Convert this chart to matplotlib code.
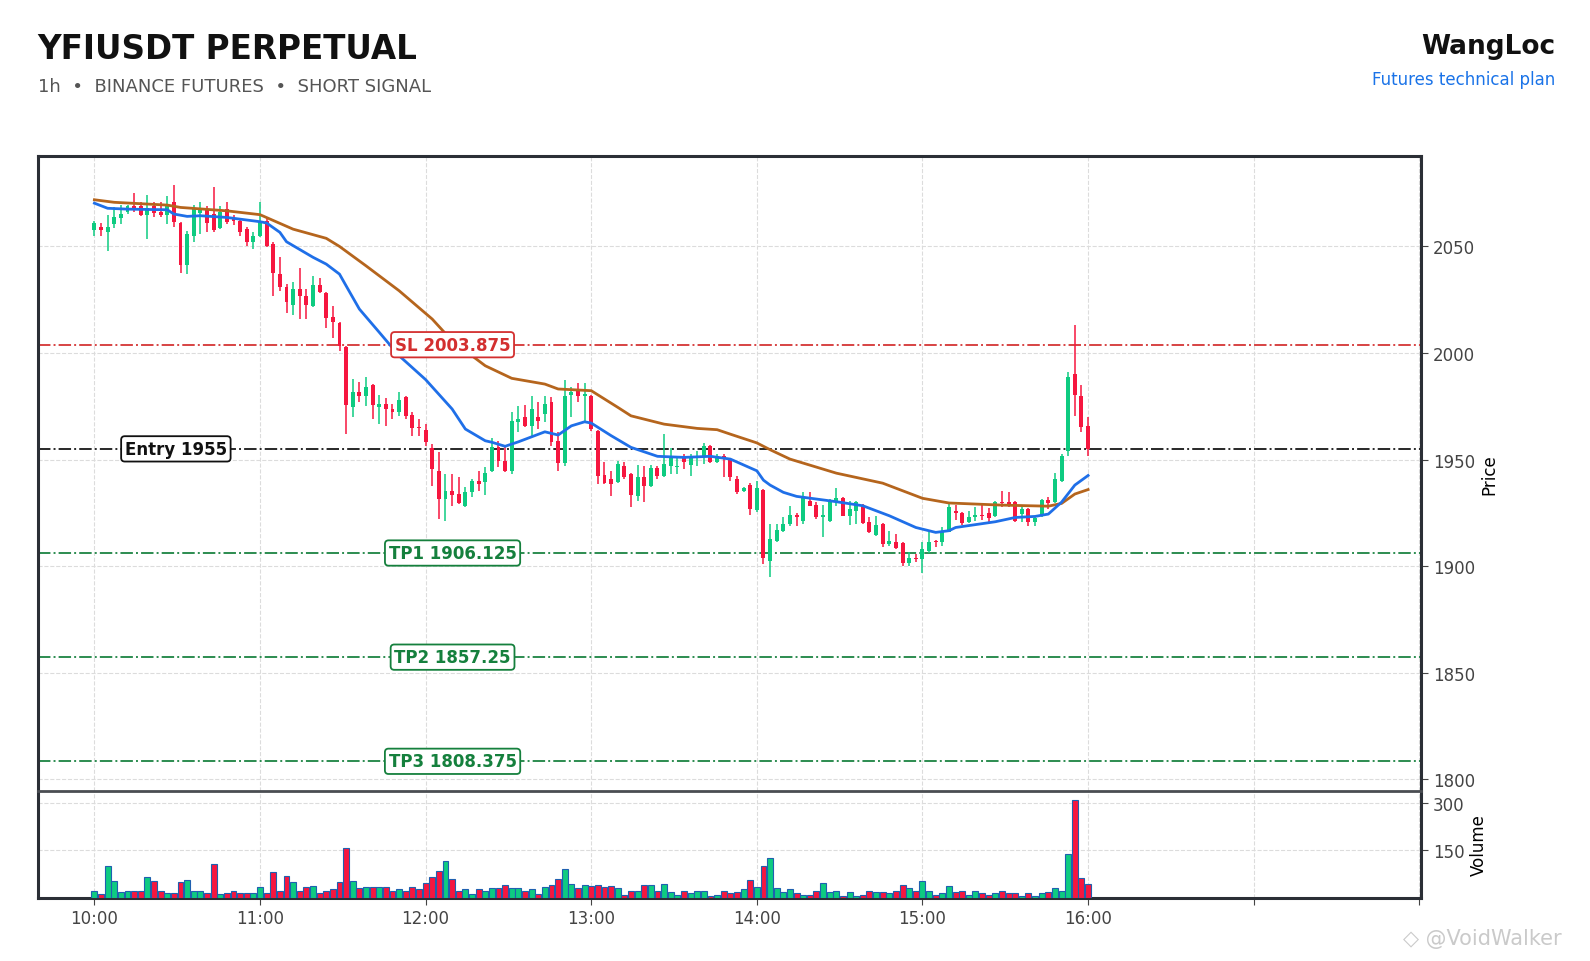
import matplotlib
matplotlib.use("Agg")
import matplotlib.pyplot as plt
import matplotlib.transforms as mtransforms

plt.rcParams["font.family"] = ["DejaVu Sans"]

# 2.4-minute candles from 10:00 to 16:00 (x in minutes after 10:00)
opens = [2057.8, 2059.1, 2056.6, 2060.5, 2063.3, 2066.0, 2068.8, 2068.8, 2064.9, 2068.8,
         2066.3, 2064.9, 2071.0, 2061.0, 2041.3, 2054.7, 2065.6, 2067.5, 2065.2, 2058.6,
         2067.5, 2062.8, 2062.0, 2058.1, 2051.9, 2054.7, 2062.0, 2051.1, 2037.0, 2030.8,
         2022.6, 2030.0, 2026.8, 2021.9, 2031.9, 2028.1, 2016.7, 2014.0, 2002.6, 1974.8,
         1981.5, 1979.6, 1984.9, 1974.8, 1976.0, 1973.7, 1972.4, 1979.2, 1970.9, 1965.1,
         1963.9, 1955.2, 1944.7, 1931.4, 1935.3, 1933.8, 1928.3, 1934.6, 1939.7, 1939.5,
         1944.7, 1955.7, 1949.4, 1944.7, 1967.7, 1969.8, 1965.6, 1969.8, 1971.3, 1977.1,
         1958.8, 1948.3, 1980.3, 1983.1, 1979.6, 1979.6, 1963.5, 1942.7, 1940.8, 1939.5,
         1947.1, 1943.2, 1932.7, 1941.6, 1937.7, 1945.8, 1942.4, 1946.8, 1946.3, 1950.5,
         1947.5, 1951.0, 1951.8, 1956.5, 1948.7, 1951.8, 1950.2, 1940.8, 1935.3, 1938.0,
         1926.4, 1935.7, 1902.5, 1911.9, 1916.6, 1919.7, 1923.9, 1921.3, 1930.6, 1928.6,
         1922.8, 1921.3, 1929.9, 1931.8, 1923.6, 1925.9, 1928.6, 1920.5, 1914.6, 1919.7,
         1910.3, 1911.4, 1910.8, 1901.4, 1903.6, 1903.3, 1907.2, 1911.9, 1911.4, 1916.1,
         1925.9, 1924.9, 1920.5, 1922.8, 1923.9, 1924.9, 1923.6, 1930.2, 1929.9, 1929.9,
         1924.4, 1926.8, 1920.5, 1923.6, 1931.0, 1929.9, 1940.0, 1954.1, 1990.1, 1979.6,
         1965.9]
highs = [2062.0, 2061.0, 2064.9, 2068.3, 2069.4, 2069.4, 2075.0, 2070.7, 2074.1, 2070.7,
         2070.7, 2073.8, 2078.8, 2061.5, 2057.3, 2069.4, 2071.0, 2068.8, 2077.7, 2069.1,
         2071.0, 2064.7, 2062.8, 2058.9, 2056.6, 2070.7, 2063.6, 2051.9, 2044.9, 2032.3,
         2033.4, 2039.7, 2030.0, 2035.9, 2035.0, 2028.6, 2021.9, 2014.5, 2003.4, 1987.7,
         1986.2, 1988.5, 1985.5, 1980.3, 1978.7, 1976.0, 1981.5, 1979.7, 1972.1, 1969.0,
         1966.6, 1957.3, 1953.6, 1943.2, 1943.2, 1941.6, 1936.9, 1940.8, 1944.7, 1946.3,
         1959.9, 1958.8, 1956.5, 1972.4, 1974.9, 1975.6, 1979.6, 1977.1, 1979.6, 1979.2,
         1962.7, 1987.4, 1983.9, 1985.9, 1985.9, 1980.1, 1964.0, 1948.9, 1944.7, 1949.4,
         1948.9, 1943.7, 1947.5, 1947.1, 1947.4, 1947.1, 1962.0, 1955.2, 1951.0, 1952.6,
         1952.6, 1954.1, 1957.7, 1957.0, 1952.6, 1952.6, 1950.7, 1942.4, 1936.9, 1938.9,
         1940.0, 1936.2, 1919.7, 1919.7, 1922.9, 1928.0, 1924.9, 1934.6, 1934.6, 1929.9,
         1928.6, 1931.4, 1936.5, 1932.3, 1930.6, 1930.6, 1929.1, 1922.9, 1923.6, 1920.2,
         1916.6, 1915.0, 1911.3, 1906.4, 1905.6, 1911.4, 1915.8, 1912.3, 1918.2, 1929.1,
         1928.6, 1925.2, 1925.9, 1927.5, 1929.6, 1927.1, 1930.6, 1935.3, 1934.6, 1930.4,
         1928.3, 1927.3, 1923.6, 1931.4, 1932.2, 1943.6, 1952.6, 1990.9, 2013.1, 1984.9,
         1969.8]
lows = [2054.7, 2054.7, 2047.7, 2058.6, 2060.5, 2065.2, 2066.0, 2064.5, 2053.5, 2063.6,
        2063.6, 2060.5, 2058.9, 2037.5, 2037.0, 2051.9, 2055.8, 2056.6, 2056.6, 2058.1,
        2060.5, 2060.0, 2055.0, 2050.0, 2048.8, 2054.2, 2049.5, 2026.8, 2029.2, 2018.7,
        2017.8, 2015.9, 2015.9, 2021.4, 2028.1, 2011.5, 2006.8, 2001.0, 1961.9, 1969.8,
        1976.8, 1975.2, 1969.0, 1966.6, 1965.8, 1969.0, 1970.5, 1969.0, 1961.1, 1961.1,
        1956.5, 1937.7, 1922.1, 1921.3, 1928.3, 1929.1, 1927.5, 1932.2, 1935.3, 1933.5,
        1944.2, 1946.3, 1944.2, 1943.2, 1962.7, 1965.1, 1961.1, 1964.3, 1967.4, 1956.5,
        1944.7, 1947.1, 1969.8, 1976.8, 1968.2, 1963.5, 1938.5, 1938.5, 1932.7, 1939.0,
        1940.8, 1927.5, 1930.6, 1929.9, 1937.2, 1940.8, 1941.9, 1943.2, 1943.2, 1945.5,
        1942.4, 1947.1, 1947.9, 1948.2, 1948.2, 1941.6, 1940.0, 1933.8, 1934.6, 1923.9,
        1925.5, 1900.9, 1894.7, 1911.4, 1915.8, 1918.9, 1918.6, 1919.7, 1928.0, 1922.1,
        1913.5, 1920.8, 1928.3, 1923.3, 1919.2, 1919.7, 1919.7, 1915.3, 1914.2, 1908.8,
        1909.5, 1908.0, 1899.9, 1899.9, 1901.7, 1896.7, 1906.1, 1908.8, 1909.5, 1915.8,
        1921.7, 1919.2, 1920.0, 1921.3, 1921.7, 1920.8, 1922.8, 1927.5, 1927.5, 1920.8,
        1920.8, 1918.6, 1918.9, 1922.8, 1926.8, 1929.6, 1939.5, 1951.8, 1970.5, 1962.7,
        1951.8]
closes = [2061.0, 2057.8, 2059.1, 2063.6, 2065.2, 2068.8, 2067.9, 2064.9, 2067.9, 2065.6,
          2064.9, 2069.1, 2061.6, 2041.3, 2055.8, 2067.5, 2067.5, 2061.0, 2057.8, 2066.3,
          2061.6, 2062.0, 2056.6, 2051.9, 2054.7, 2061.3, 2050.0, 2037.5, 2030.8, 2023.7,
          2030.0, 2026.8, 2022.6, 2031.9, 2028.7, 2016.2, 2014.6, 2003.4, 1975.6, 1981.5,
          1979.6, 1983.9, 1975.6, 1976.0, 1973.7, 1972.1, 1978.0, 1970.5, 1964.6, 1964.6,
          1958.0, 1945.5, 1931.4, 1935.3, 1933.5, 1929.6, 1934.6, 1939.7, 1938.5, 1943.6,
          1955.7, 1949.4, 1944.7, 1968.2, 1969.0, 1965.6, 1973.7, 1968.2, 1976.0, 1958.0,
          1948.3, 1979.6, 1981.8, 1979.6, 1980.7, 1964.3, 1942.4, 1939.0, 1938.5, 1947.9,
          1941.6, 1933.5, 1941.6, 1937.7, 1945.8, 1942.4, 1947.9, 1951.0, 1947.1, 1948.7,
          1950.5, 1951.8, 1956.5, 1948.7, 1951.5, 1950.2, 1941.6, 1934.6, 1936.5, 1926.8,
          1936.5, 1903.8, 1912.7, 1917.0, 1919.7, 1923.9, 1922.8, 1931.8, 1928.3, 1922.8,
          1923.9, 1929.9, 1931.8, 1923.6, 1926.8, 1929.9, 1920.2, 1915.8, 1919.2, 1910.3,
          1911.9, 1908.3, 1901.4, 1903.6, 1903.3, 1908.0, 1911.4, 1911.1, 1916.1, 1927.5,
          1924.9, 1920.2, 1922.8, 1923.9, 1923.5, 1922.4, 1929.9, 1929.6, 1928.6, 1921.3,
          1926.8, 1920.5, 1922.4, 1931.0, 1929.6, 1940.8, 1951.8, 1988.5, 1980.2, 1965.4,
          1954.9]
volumes = [22.3, 11.7, 99.0, 51.1, 18.1, 22.3, 22.3, 22.3, 63.8, 51.1,
           19.2, 14.9, 14.9, 47.9, 54.3, 22.3, 22.3, 14.9, 105.3, 11.7,
           14.9, 19.2, 14.9, 14.9, 14.9, 31.9, 14.9, 79.8, 19.2, 67.0,
           47.9, 22.3, 31.9, 35.1, 14.9, 22.3, 25.5, 47.9, 156.4, 51.1,
           28.7, 31.9, 31.9, 31.9, 31.9, 19.2, 25.5, 22.3, 31.9, 25.5,
           44.7, 63.8, 83.0, 114.9, 57.5, 19.2, 25.5, 11.7, 25.5, 19.2,
           28.7, 28.7, 38.3, 28.7, 28.7, 19.2, 25.5, 11.7, 31.9, 38.3,
           57.5, 89.4, 41.5, 28.7, 38.3, 35.1, 38.3, 31.9, 35.1, 28.7,
           8.5, 22.3, 22.3, 38.3, 38.3, 19.2, 41.5, 16.0, 8.5, 19.2,
           12.8, 22.3, 22.3, 5.3, 8.5, 19.2, 12.8, 16.0, 25.5, 54.3,
           31.9, 99.0, 124.5, 28.7, 16.0, 25.5, 12.8, 8.5, 8.5, 19.2,
           44.7, 16.0, 22.3, 5.3, 16.0, 5.3, 8.5, 19.2, 16.0, 16.0,
           12.8, 19.2, 38.3, 28.7, 19.2, 51.1, 19.2, 8.5, 12.8, 35.1,
           16.0, 19.2, 8.5, 19.2, 12.8, 8.5, 12.8, 19.2, 12.8, 12.8,
           5.3, 12.8, 5.3, 12.8, 16.0, 28.7, 22.3, 137.3, 309.6, 60.6,
           41.5]

# moving averages (candle index, value)
ema_fast_idx = [0, 2, 5, 11, 12, 14, 16, 20, 22, 25, 26, 28, 29, 33, 35, 37, 38, 40, 43, 46,
                50, 54, 56, 59, 60, 62, 64, 68, 70, 72, 74, 75, 78, 81, 85, 89, 93, 96, 100,
                101, 102, 104, 106, 112, 116, 120, 124, 127, 129, 130, 136, 139, 142, 144,
                146, 148, 150]
ema_fast_val = [2070.3, 2067.9, 2067.5, 2067.2, 2065.2, 2064.1, 2064.4, 2063.6, 2062.8, 2061.6,
                2061.0, 2056.6, 2052.2, 2044.9, 2041.7, 2037.0, 2031.5, 2020.6, 2009.7, 1998.7,
                1987.5, 1973.7, 1964.3, 1958.8, 1958.1, 1956.2, 1958.3, 1963.0, 1961.5, 1965.8,
                1967.7, 1967.1, 1961.2, 1955.7, 1951.5, 1951.0, 1951.5, 1950.2, 1944.7,
                1940.3, 1938.0, 1934.6, 1932.7, 1930.2, 1928.3, 1923.6, 1918.1, 1915.8, 1916.6,
                1918.1, 1920.8, 1922.8, 1923.3, 1924.4, 1930.0, 1938.0, 1942.5]
ema_slow_idx = [0, 3, 11, 13, 20, 25, 30, 35, 37, 41, 46, 51, 54, 59, 63, 68, 70, 75, 79, 81,
                86, 91, 94, 96, 100, 102, 105, 112, 119, 125, 129, 137, 144, 146, 148, 150]
ema_slow_val = [2071.9, 2070.7, 2069.4, 2068.3, 2066.7, 2064.9, 2058.1, 2053.8, 2050.0, 2040.9,
                2029.2, 2015.9, 2005.7, 1994.0, 1988.1, 1985.4, 1983.1, 1982.3, 1974.5, 1970.5,
                1966.6, 1964.6, 1964.0, 1961.9, 1957.8, 1954.6, 1950.2, 1943.6, 1938.9, 1931.8,
                1929.6, 1928.6, 1928.1, 1929.4, 1933.8, 1935.9]

entry = 1955
stop_loss = 2003.875
targets = [1906.125, 1857.25, 1808.375]
target_labels = ["TP1 1906.125", "TP2 1857.25", "TP3 1808.375"]

hour_ticks = [0, 60, 120, 180, 240, 300, 360, 420, 480]
hour_labels = ["10:00", "11:00", "12:00", "13:00", "14:00", "15:00", "16:00", "", ""]

step = 2.4
xs = [i * step for i in range(len(closes))]
up_col = "#0ecb81"
down_col = "#f6163f"
cols = [up_col if c >= o else down_col for o, c in zip(opens, closes)]

fig = plt.figure(figsize=(15.9, 9.62), dpi=100)
ax = fig.add_axes([0.0236, 0.1764, 0.8701, 0.6601])
axv = fig.add_axes([0.0236, 0.066, 0.8701, 0.1104], sharex=ax)

# candles
ax.vlines(xs, lows, highs, colors=cols, linewidth=1.1, zorder=3)
bottoms = [min(o, c) for o, c in zip(opens, closes)]
heights = [max(abs(c - o), 0.5) for o, c in zip(opens, closes)]
ax.bar(xs, heights, bottom=bottoms, width=step * 0.6, color=cols, linewidth=0, zorder=3)

# moving averages
ax.plot([xs[i] for i in ema_slow_idx], ema_slow_val, color="#b5651d", lw=2.0, zorder=4)
ax.plot([xs[i] for i in ema_fast_idx], ema_fast_val, color="#1f6fe8", lw=2.0, zorder=4)

# trade levels
blend = mtransforms.blended_transform_factory(ax.transAxes, ax.transData)
levels = [(stop_loss, "SL 2003.875", "#d32f2f", 0.30),
          (entry, "Entry 1955", "#111111", 0.10)]
for t, lab in zip(targets, target_labels):
    levels.append((t, lab, "#15803d", 0.30))
for y, txt, c, xpos in levels:
    ax.axhline(y, color=c, ls="-.", lw=1.4, zorder=2.5, alpha=0.9)
    ax.text(xpos, y, txt, transform=blend, ha="center", va="center",
            fontsize=12, fontweight="bold", color=c, zorder=6,
            bbox=dict(boxstyle="round,pad=0.22", fc="white", ec=c, lw=1.3))

ax.set_xlim(-20.6, 480.6)
ax.set_ylim(1794.3, 2092.3)
ax.set_yticks([1800, 1850, 1900, 1950, 2000, 2050])

# volume
axv.bar(xs, volumes, width=step * 0.9, color=cols, edgecolor="#1f60b0", linewidth=0.8, zorder=3)
axv.set_ylim(0, 338)
axv.set_yticks([150, 300])
axv.set_xticks(hour_ticks)
axv.set_xticklabels(hour_labels)

for a in (ax, axv):
    a.grid(True, ls="--", color="#dcdcdc", lw=0.8, zorder=0)
    a.yaxis.tick_right()
    a.yaxis.set_label_position("right")
    a.tick_params(axis="y", labelsize=12, colors="#444444", length=5)
    for s in a.spines.values():
        s.set_color("#2b2f36")
        s.set_linewidth(2.2)

# divider between price and volume panels
ax.spines["bottom"].set_visible(False)
axv.spines["top"].set_linewidth(2.0)
axv.spines["top"].set_color("#4a4d52")
ax.tick_params(axis="x", bottom=False, labelbottom=False)
axv.tick_params(axis="x", labelsize=12, colors="#444444", length=5)
ax.set_ylabel("Price", fontsize=12)
axv.set_ylabel("Volume", fontsize=12)

# header
fig.text(0.0236, 0.949, "YFIUSDT PERPETUAL", fontsize=23.5, fontweight="bold",
         ha="left", va="center", color="#111111")
fig.text(0.0236, 0.910, "1h  •  BINANCE FUTURES  •  SHORT SIGNAL", fontsize=13,
         ha="left", va="center", color="#555555")
fig.text(0.978, 0.9515, "WangLoc", fontsize=19, fontweight="bold",
         ha="right", va="center", color="#111111")
fig.text(0.978, 0.9166, "Futures technical plan", fontsize=12,
         ha="right", va="center", color="#1a73e8")

# watermark
fig.text(0.932, 0.024, "◇ @VoidWalker", fontsize=15, ha="center", va="center",
         color="#bdbdbd", alpha=0.8)

fig.savefig("out.png", dpi=100)
